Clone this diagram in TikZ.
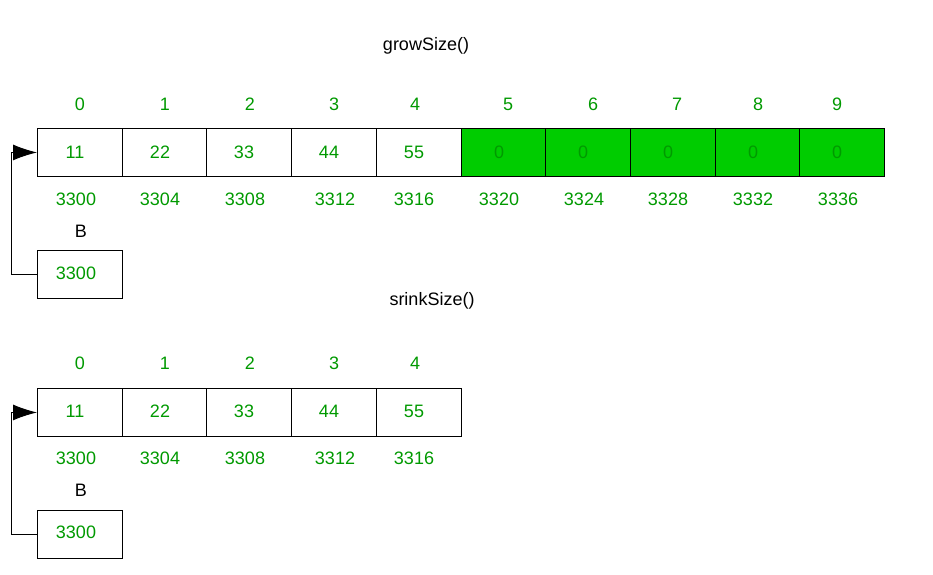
\documentclass[tikz,border=0pt]{standalone}
\usepackage{fontspec}
\setmainfont{Liberation Sans}
\usetikzlibrary{arrows.meta}
\definecolor{txtgreen}{HTML}{009900}
\definecolor{fillgreen}{HTML}{00CC00}
\definecolor{zerogreen}{HTML}{009A00}
\begin{document}
\begin{tikzpicture}[x=1pt,y=-1pt,
  cell/.style={draw=black,line width=0.9pt,minimum width=84.7pt,minimum height=48pt,inner sep=0pt,anchor=north west},
  gcell/.style={cell,fill=fillgreen},
  lbl/.style={text=txtgreen,inner sep=0pt},
  zlbl/.style={text=zerogreen,inner sep=0pt},
  ttl/.style={text=black,inner sep=0pt},
  ptr/.style={draw=black,line width=0.9pt,-{Latex[length=24pt,width=16pt]}},
  every node/.style={font=\fontsize{18}{20}\selectfont}]
\useasboundingbox (0,0) rectangle (933,574);
% ---- top: growSize ----
\node[ttl] (t1) at (426,46) {growSize()};
\foreach \i in {0,...,4}{
  \node[cell] (a\i) at (37+84.7*\i,128) {};
}
\foreach \i in {5,...,9}{
  \node[gcell] (a\i) at (37+84.7*\i,128) {};
}
\foreach \i/\x/\v in {0/75/11,1/160/22,2/244/33,3/329/44,4/414/55}{
  \node[lbl] (va\i) at (\x,152) {\v};
}
\foreach \i/\x in {5/499,6/583,7/668,8/753,9/837}{
  \node[zlbl] (va\i) at (\x,152) {0};
}
\foreach \i/\x in {0/80,1/165,2/250,3/334,4/415,5/508,6/593,7/677,8/758,9/837}{
  \node[lbl] (ia\i) at (\x,104) {\i};
}
\foreach \i/\x/\a in {0/76/3300,1/160/3304,2/245/3308,3/335/3312,4/414/3316,5/499/3320,6/584/3324,7/668/3328,8/753/3332,9/838/3336}{
  \node[lbl] (da\i) at (\x,199) {\a};
}
\node[ttl] (b1) at (81,231) {B};
\node[cell] (p1) at (37,250) {};
\node[lbl] (vp1) at (76,273) {3300};
\draw[ptr] (p1.west) -- ++(-26,0) |- (a0.west);
% ---- bottom: srinkSize ----
\node[ttl] (t2) at (432,301) {srinkSize()};
\foreach \i in {0,...,4}{
  \node[cell] (b\i) at (37+84.7*\i,388) {};
}
\foreach \i/\x/\v in {0/75/11,1/160/22,2/244/33,3/329/44,4/414/55}{
  \node[lbl] (vb\i) at (\x,411) {\v};
}
\foreach \i/\x in {0/80,1/165,2/250,3/334,4/415}{
  \node[lbl] (ib\i) at (\x,363) {\i};
}
\foreach \i/\x/\a in {0/76/3300,1/160/3304,2/245/3308,3/335/3312,4/414/3316}{
  \node[lbl] (db\i) at (\x,458) {\a};
}
\node[ttl] (b2) at (81,490) {B};
\node[cell] (p2) at (37,510) {};
\node[lbl] (vp2) at (76,532) {3300};
\draw[ptr] (p2.west) -- ++(-26,0) |- (b0.west);
\end{tikzpicture}
\end{document}
